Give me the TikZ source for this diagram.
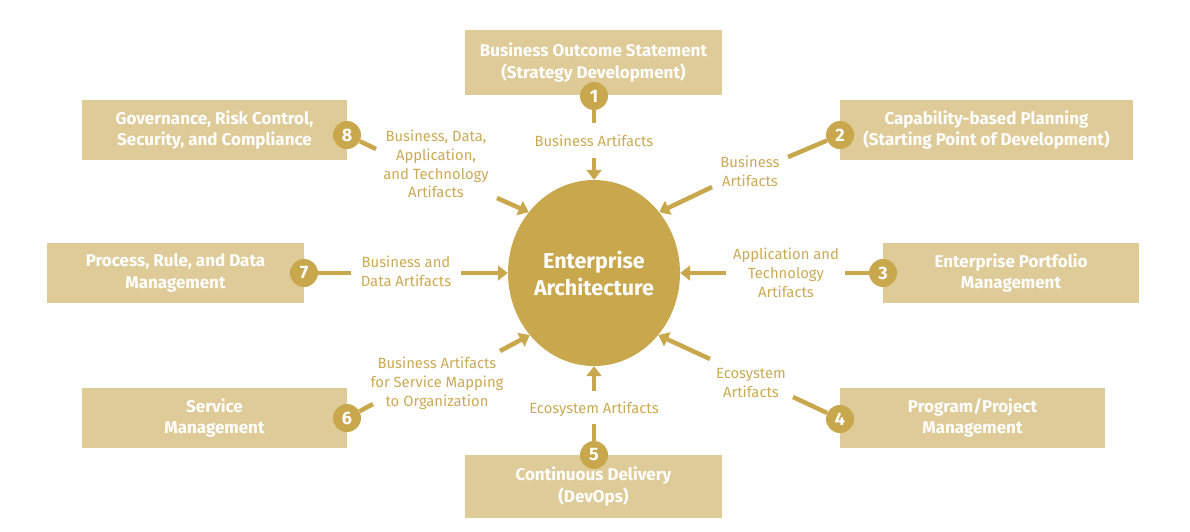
\documentclass[tikz,border=0pt]{standalone}
\usepackage{fontspec}
\setmainfont{Fira Sans}
\usetikzlibrary{shapes.geometric,arrows.meta}
\definecolor{gold}{HTML}{C9A74D}
\definecolor{boxfill}{HTML}{DFCB98}
\definecolor{labgold}{HTML}{CBAA55}
\tikzset{
  box/.style={rectangle, fill=boxfill, draw=none, text=white, align=center,
    font=\fontsize{17}{21.5}\selectfont\bfseries, inner sep=0pt},
  num/.style={circle, fill=gold, text=white, minimum size=28pt, inner sep=0pt,
    font=\fontsize{18}{18}\selectfont\bfseries},
  lab/.style={text=labgold, align=center, font=\fontsize{14.8}{18.8}\selectfont, inner sep=0pt},
  conn/.style={draw=gold, line width=4.5pt},
  arr/.style={draw=gold, line width=4.5pt, -{Triangle[length=10pt,width=15pt]}},
}
\begin{document}
\begin{tikzpicture}[x=1pt,y=-1pt]
\useasboundingbox (0,0) rectangle (1190,531);
% boxes
\node[box, minimum width=257pt, minimum height=65pt] (b1) at (593.5,62.5) {Business Outcome Statement\\(Strategy Development)};
\node[box, minimum width=293pt, minimum height=60pt] (b2) at (986.5,130) {Capability-based Planning\\(Starting Point of Development)};
\node[box, minimum width=256pt, minimum height=60pt] (b3) at (1011,273) {Enterprise Portfolio\\Management};
\node[box, minimum width=265pt, minimum height=60pt] (b4) at (972.5,418) {Program/Project\\Management};
\node[box, minimum width=257pt, minimum height=63pt] (b5) at (593.5,486.5) {Continuous Delivery\\(DevOps)};
\node[box, minimum width=265pt, minimum height=60pt] (b6) at (214.5,418) {Service\\Management};
\node[box, minimum width=257pt, minimum height=60pt] (b7) at (175.5,273) {Process, Rule, and Data\\Management};
\node[box, minimum width=265pt, minimum height=60pt] (b8) at (214.5,130) {Governance, Risk Control,\\Security, and Compliance};
% central ellipse
\node[ellipse, fill=gold, minimum width=172pt, minimum height=186pt, inner sep=0pt,
  text=white, align=center, font=\fontsize{21.5}{27}\selectfont\bfseries] (ea) at (594,273) {Enterprise\\Architecture};
% number circles
\node[num] (c1) at (594,96) {1};
\node[num] (c2) at (840,135) {2};
\node[num] (c3) at (883,273) {3};
\node[num] (c4) at (840,419) {4};
\node[num] (c5) at (594,455) {5};
\node[num] (c6) at (347,418) {6};
\node[num] (c7) at (304,273) {7};
\node[num] (c8) at (347,135) {8};
% labels
\node[lab] (l1) at (594,141) {Business Artifacts};
\node[lab] (l2) at (750,171) {Business\\Artifacts};
\node[lab] (l3) at (786,273) {Application and\\Technology\\Artifacts};
\node[lab] (l4) at (751,383) {Ecosystem\\Artifacts};
\node[lab] (l5) at (594,409) {Ecosystem Artifacts};
\node[lab] (l6) at (437,383) {Business Artifacts\\for Service Mapping\\to Organization};
\node[lab] (l7) at (406,271) {Business and\\Data Artifacts};
\node[lab] (l8) at (436,164) {Business, Data,\\Application,\\and Technology\\Artifacts};
% connector end points
\coordinate (p1) at (594,123);
\coordinate (p2) at (788,157);
\coordinate (p3) at (845,273);
\coordinate (p4) at (793,397);
\coordinate (p5) at (594,424);
\coordinate (p6) at (373,404);
\coordinate (p7) at (351,273);
\coordinate (p8) at (376,149);
\coordinate (q1) at (594,158);
\coordinate (q2) at (712,187);
\coordinate (q3) at (726,273);
\coordinate (q4) at (710,359);
\coordinate (q5) at (594,391);
\coordinate (q6) at (500,351);
\coordinate (q7) at (461,273);
\coordinate (q8) at (497,198);
% connectors
\draw[conn] (c1) -- (p1);
\draw[conn] (c2) -- (p2);
\draw[conn] (c3) -- (p3);
\draw[conn] (c4) -- (p4);
\draw[conn] (c5) -- (p5);
\draw[conn] (c6) -- (p6);
\draw[conn] (c7) -- (p7);
\draw[conn] (c8) -- (p8);
\draw[arr] (q1) -- (ea.north);
\draw[arr] (q2) -- (ea.43);
\draw[arr] (q3) -- (ea.east);
\draw[arr] (q4) -- (ea.-44);
\draw[arr] (q5) -- (ea.south);
\draw[arr] (q6) -- (ea.-136);
\draw[arr] (q7) -- (ea.west);
\draw[arr] (q8) -- (ea.137);
\end{tikzpicture}
\end{document}
